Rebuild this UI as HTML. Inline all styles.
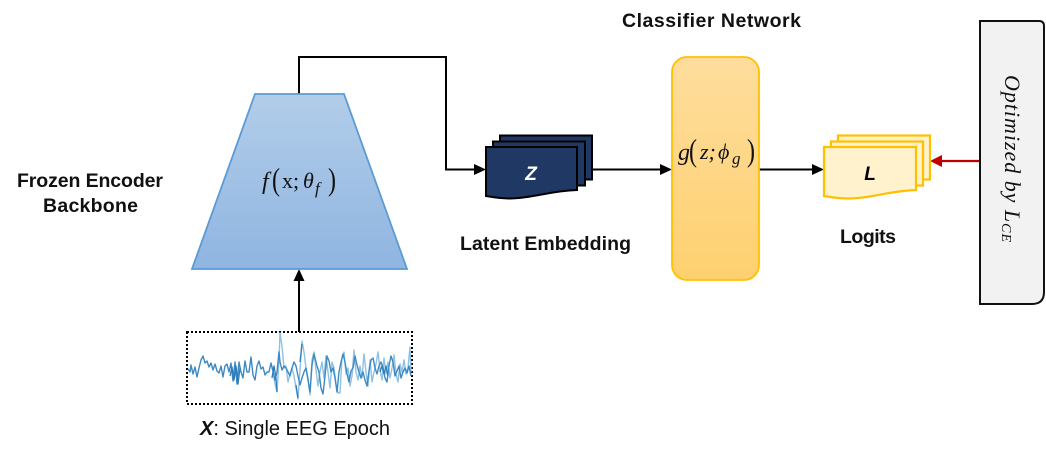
<!DOCTYPE html>
<html>
<head>
<meta charset="utf-8">
<style>
html,body{margin:0;padding:0;background:#fff;width:1046px;height:455px;overflow:hidden}
svg{display:block}
.l{font-family:"Liberation Sans",sans-serif;font-size:19.500px;font-weight:bold;fill:#111}
.m{font-family:"Liberation Serif",serif;fill:#111}
</style>
</head>
<body>
<svg width="1046" height="455" viewBox="0 0 1046 455" xmlns="http://www.w3.org/2000/svg">
<defs>
<linearGradient id="b" x1="0" y1="0" x2="0" y2="1"><stop offset="0" stop-color="#b2cde9"/><stop offset="1" stop-color="#8fb5e1"/></linearGradient>
<linearGradient id="o" x1="0" y1="0" x2="0" y2="1"><stop offset="0" stop-color="#fedd9d"/><stop offset="1" stop-color="#fed06f"/></linearGradient>
</defs>

<!-- connectors -->
<g fill="none" stroke="#000" stroke-width="2">
<path d="M299 94V57H446V169.500H476"/>
<path d="M299 332V279"/>
<path d="M592 169.500H661"/>
<path d="M759 169.500H814"/>
</g>
<g fill="#000">
<path d="M486 169.500L474 164V175Z"/>
<path d="M299 269L293.500 281H304.500Z"/>
<path d="M672 169.500L660 164V175Z"/>
<path d="M824 169.500L812 164V175Z"/>
</g>
<path d="M980 161H940" stroke="#c00000" stroke-width="2.200" fill="none"/>
<path d="M930 161L942 155V167Z" fill="#c00000"/>

<!-- encoder -->
<path d="M255 94H344L407 269H192Z" fill="url(#b)" stroke="#5b9bd5" stroke-width="1.800"/>
<text class="m" x="262" y="189" font-size="24" font-style="italic">f</text>
<text class="m" x="272" y="190" font-size="32" transform="translate(272 0) scale(.75 1) translate(-272 0)">(</text>
<text class="m" x="282" y="188" font-size="22">x;</text>
<text class="m" x="303" y="188" font-size="22" font-style="italic">θ</text>
<text class="m" x="315" y="194" font-size="17" font-style="italic">f</text>
<text class="m" x="328" y="190" font-size="32" transform="translate(328 0) scale(.75 1) translate(-328 0)">)</text>

<!-- Z stack -->
<g fill="#1f3864" stroke="#000" stroke-width="2">
<rect x="500" y="135.500" width="92" height="44"/>
<rect x="493" y="141.500" width="92" height="44"/>
<path d="M486 147H577V190C548 191 535 198 510 198.500C499 198.500 492 197 486 196Z"/>
</g>
<text x="531" y="180" text-anchor="middle" font-family="Liberation Sans,sans-serif" font-size="19" font-weight="bold" font-style="italic" fill="#fff">Z</text>

<!-- classifier -->
<rect x="672" y="57" width="87" height="223" rx="15" ry="15" fill="url(#o)" stroke="#ffc000" stroke-width="1.800"/>
<text class="m" x="678" y="160" font-size="24" font-style="italic">g</text>
<text class="m" x="689" y="161" font-size="32" transform="translate(689 0) scale(.75 1) translate(-689 0)">(</text>
<text class="m" x="700" y="159" font-size="22" font-style="italic">z;</text>
<text class="m" x="718" y="159" font-size="22" font-style="italic">ϕ</text>
<text class="m" x="732" y="164" font-size="17" font-style="italic">g</text>
<text class="m" x="747" y="161" font-size="32" transform="translate(747 0) scale(.75 1) translate(-747 0)">)</text>

<!-- L stack -->
<g fill="#fff2cc" stroke="#ffc000" stroke-width="2.200">
<rect x="838" y="135.500" width="92" height="44"/>
<rect x="831" y="141.500" width="92" height="44"/>
<path d="M824 147H916V190C887 191 874 198 849 198.500C838 198.500 830 197 824 196Z"/>
</g>
<text x="870" y="180" text-anchor="middle" font-family="Liberation Sans,sans-serif" font-size="19" font-weight="bold" font-style="italic" fill="#000">L</text>

<!-- optimizer -->
<path d="M980 21H1039Q1044 21 1044 26V292Q1044 304 1032 304H980Z" fill="#f2f2f2" stroke="#111" stroke-width="2"/>
<text class="m" transform="translate(1005 75) rotate(90)" font-size="22" font-style="italic" textLength="167" lengthAdjust="spacing">Optimized by L<tspan font-size="14" dy="3">CE</tspan></text>

<!-- EEG -->
<rect x="187" y="332" width="225" height="72" fill="none" stroke="#000" stroke-width="2" stroke-dasharray="2 2"/>
<polyline fill="none" stroke="#8fc1e3" stroke-width="1.400" stroke-linejoin="round" points="271,363 273,372 275,384 277,392 279,360 280,333 282,346 284,368 286,366 288,382 290,374 292,368 294,376 296,388 298,399 300,370 302,341 304,352 306,368 308,378 310,395 312,360 314,352 316,370 318,386 320,372 322,362 324,378 326,356 328,372 330,388 332,362 334,368 336,384 338,393 340,393 342,358 344,352 346,374 348,368 350,386 352,376 354,350 356,372 358,380 360,366 362,378 364,354 366,372 368,386 370,360 372,382 374,372 376,364 378,352 380,370 382,380 384,358 386,374 388,362 390,378 392,368 394,355 396,374 398,382 400,364 402,372 404,360 406,374 408,368 410,347 411,372"/>
<polyline fill="none" stroke="#3d8ac3" stroke-width="1.400" stroke-linejoin="round" points="188,369 190,372 191,365 193,374 195,367 197,377 199,368 201,360 203,356 205,363 207,361 209,367 211,363 213,370 215,364 217,371 219,373 221,366 223,377 225,366 227,364 229,372 231,363 233,381 235,362 237,384 239,362 241,372 243,378 245,361 247,372 249,372 251,357 253,375 255,380 257,366 259,361 261,369 263,367 265,375 267,372 269,372 271,363 273,371 275,380 277,372 279,352 280,362 282,370 284,366 286,368 288,372 290,376 292,368 294,362 296,366 298,376 300,385 302,378 304,372 306,368 308,380 310,392 312,365 314,354 315,358 317,366 319,372 321,388 323,394 325,376 327,356 329,361 331,372 333,368 335,378 337,392 339,372 341,362 343,354 345,362 347,374 349,382 351,371 353,368 355,356 357,365 359,372 361,378 363,372 365,380 367,386 369,371 371,360 373,358 375,368 377,374 379,366 381,362 383,368 385,378 387,382 389,366 391,356 393,362 395,376 397,371 399,366 401,378 403,372 405,368 407,373 409,366 411,376"/>
<path fill="none" stroke="#2f7db8" stroke-width="1.300" stroke-linejoin="round" d="M230 376L232 367L234 380L236 366L238 384L240 368M272 378L274 366L276 378L277 392M296 385L298 398M300 362L302 344M380 372L382 366L384 374L386 366L388 376"/>

<!-- labels -->
<text class="l" x="17" y="187" textLength="146" lengthAdjust="spacing">Frozen Encoder</text>
<text class="l" x="43" y="212" textLength="95" lengthAdjust="spacing">Backbone</text>
<text class="l" x="622" y="27" textLength="179" lengthAdjust="spacing">Classifier Network</text>
<text class="l" x="460" y="250" textLength="171" lengthAdjust="spacing">Latent Embedding</text>
<text class="l" x="840" y="243" textLength="56" lengthAdjust="spacing">Logits</text>
<text x="200" y="435" font-family="Liberation Sans,sans-serif" font-size="20" fill="#111" textLength="190" lengthAdjust="spacing"><tspan font-weight="bold" font-style="italic">X</tspan>: Single EEG Epoch</text>
</svg>
</body>
</html>
